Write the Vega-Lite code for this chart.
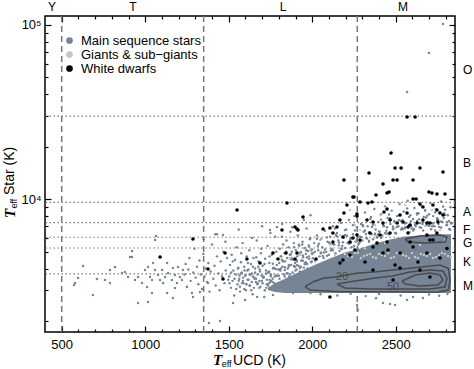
{
"$schema":"https://vega.github.io/schema/vega-lite/v6.json",
"width":410,"height":316,
"autosize":{"type":"none"},
"padding":{"left":45,"top":16,"right":19,"bottom":37},
"config":{"view":{"stroke":"black","strokeWidth":1.5},"font":"Liberation Sans",
 "axis":{"domain":false,"grid":false,"tickColor":"black","tickWidth":1.2,"labelColor":"black","labelFont":"Liberation Sans","labelFontSize":13}},
"datasets":{
"hlines":[{"y":30000},{"y":9600},{"y":7350},{"y":6050},{"y":5250},{"y":3725}],
"vlines":[{"x":500},{"x":1350},{"x":2270}],
"core":[{"x":1735,"hi":3100,"lo":3013},{"x":1777,"hi":3300,"lo":2935},{"x":1837,"hi":3500,"lo":2895},{"x":1897,"hi":3720,"lo":2895},{"x":1957,"hi":3960,"lo":2895},{"x":2035,"hi":4280,"lo":2895},{"x":2106,"hi":4570,"lo":2895},{"x":2196,"hi":4950,"lo":2895},{"x":2286,"hi":5220,"lo":2895},{"x":2376,"hi":5580,"lo":2895},{"x":2466,"hi":5880,"lo":2895},{"x":2556,"hi":6120,"lo":2895},{"x":2645,"hi":6200,"lo":2895},{"x":2735,"hi":6290,"lo":2895},{"x":2831,"hi":6290,"lo":2895}],
"ms":[
{"x":574,"y":3220},{"x":687,"y":2820},{"x":580,"y":3306},{"x":598,"y":3530},{"x":628,"y":4140},{"x":711,"y":3485},{"x":759,"y":3440},{"x":789,"y":3920},{"x":819,"y":4083},{"x":861,"y":3770},{"x":879,"y":3820},{"x":897,"y":3577},{"x":909,"y":4660},{"x":921,"y":4660},{"x":921,"y":5040},{"x":939,"y":3440},{"x":957,"y":3577},{"x":981,"y":3306},{"x":999,"y":3920},{"x":1011,"y":3136},{"x":1017,"y":4083},{"x":1029,"y":3577},{"x":1041,"y":3440},{"x":1047,"y":4305},{"x":1059,"y":3920},{"x":1059,"y":5834},{"x":1065,"y":6150},{"x":1077,"y":3673},{"x":1089,"y":3440},{"x":1101,"y":3920},{"x":1107,"y":3306},{"x":1119,"y":3577},{"x":1131,"y":4305},{"x":1137,"y":3770},{"x":1160,"y":3440},{"x":1166,"y":4030},{"x":1178,"y":3673},{"x":1190,"y":3306},{"x":1196,"y":4083},{"x":1208,"y":3577},{"x":1220,"y":3440},{"x":1226,"y":3920},{"x":957,"y":2540},{"x":1017,"y":2575},{"x":1166,"y":2710},{"x":789,"y":3306},{"x":1041,"y":2895},{"x":1131,"y":2895},{"x":1178,"y":3094},{"x":1250,"y":3136},{"x":1286,"y":2747},{"x":1328,"y":2935},{"x":1376,"y":3306},{"x":1382,"y":1949},{"x":1448,"y":2001},{"x":1526,"y":2540},{"x":1598,"y":2641},{"x":1670,"y":2747},{"x":1765,"y":2820},{"x":1885,"y":2895},
{"x":1235,"y":3700},{"x":1242,"y":4250},{"x":1250,"y":3150},{"x":1258,"y":3950},{"x":1265,"y":4600},{"x":1272,"y":3400},{"x":1280,"y":2900},{"x":1288,"y":3800},{"x":1295,"y":5200},{"x":1302,"y":3550},{"x":1310,"y":4100},{"x":1318,"y":3250},{"x":1325,"y":4450},{"x":1333,"y":3700},{"x":1340,"y":3050},{"x":1348,"y":4850},{"x":1355,"y":3600},{"x":1362,"y":4000},{"x":1370,"y":3350},{"x":1378,"y":4300},{"x":1385,"y":2950},{"x":1392,"y":3850},{"x":1400,"y":5500},{"x":1408,"y":3500},{"x":1415,"y":4150},{"x":1422,"y":3200},{"x":1430,"y":4700},{"x":1438,"y":3750},{"x":1445,"y":3000},{"x":1452,"y":4400},{"x":1460,"y":3600},{"x":1468,"y":5000},{"x":1475,"y":3300},{"x":1482,"y":3900},{"x":1490,"y":4600},{"x":1497,"y":3450},
{"x":1503,"y":3600},{"x":1508,"y":4200},{"x":1513,"y":3100},{"x":1518,"y":4800},{"x":1523,"y":3400},{"x":1528,"y":3900},{"x":1533,"y":2800},{"x":1538,"y":4500},{"x":1543,"y":3700},{"x":1548,"y":5300},{"x":1553,"y":3250},{"x":1558,"y":4050},{"x":1563,"y":3500},{"x":1568,"y":2950},{"x":1573,"y":4350},{"x":1578,"y":3800},{"x":1583,"y":5600},{"x":1588,"y":3300},{"x":1593,"y":4100},{"x":1598,"y":3650},{"x":1603,"y":3000},{"x":1608,"y":4700},{"x":1613,"y":3450},{"x":1618,"y":3950},{"x":1623,"y":5100},{"x":1628,"y":3200},{"x":1633,"y":4250},{"x":1638,"y":3750},{"x":1643,"y":2850},{"x":1648,"y":4600},{"x":1653,"y":3550},{"x":1658,"y":4000},{"x":1663,"y":3350},{"x":1668,"y":5800},{"x":1673,"y":3700},{"x":1678,"y":4400},{"x":1683,"y":3100},{"x":1688,"y":3850},{"x":1693,"y":4900},{"x":1698,"y":3400},{"x":1703,"y":4150},{"x":1708,"y":3600},{"x":1713,"y":2750},{"x":1718,"y":4550},{"x":1723,"y":3900},{"x":1728,"y":3250},{"x":1733,"y":5400},{"x":1738,"y":3800},{"x":1743,"y":4300},{"x":1748,"y":3050},{"x":1753,"y":3700},{"x":1758,"y":4800},{"x":1763,"y":3500},{"x":1768,"y":4050},{"x":1773,"y":3300},{"x":1778,"y":6100},{"x":1783,"y":3650},{"x":1788,"y":4200},{"x":1793,"y":3150},{"x":1798,"y":3950},
{"x":1505,"y":3300},{"x":1515,"y":3800},{"x":1525,"y":4400},{"x":1535,"y":3500},{"x":1545,"y":3050},{"x":1555,"y":4000},{"x":1565,"y":3650},{"x":1575,"y":4900},{"x":1585,"y":3400},{"x":1595,"y":3900},{"x":1605,"y":3250},{"x":1615,"y":4300},{"x":1625,"y":3700},{"x":1635,"y":3000},{"x":1645,"y":4100},{"x":1655,"y":3500},{"x":1665,"y":4650},{"x":1675,"y":3300},{"x":1685,"y":3950},{"x":1695,"y":5200},{"x":1705,"y":3550},{"x":1715,"y":4250},{"x":1725,"y":3100},{"x":1735,"y":3800},{"x":1745,"y":4700},{"x":1755,"y":3400},{"x":1765,"y":4000},{"x":1775,"y":3600},{"x":1785,"y":5000},{"x":1795,"y":3300},
{"x":1560,"y":3400},{"x":1567,"y":3150},{"x":1573,"y":3750},{"x":1580,"y":3300},{"x":1586,"y":3550},{"x":1593,"y":3050},{"x":1599,"y":3650},{"x":1606,"y":3250},{"x":1612,"y":3900},{"x":1619,"y":3450},{"x":1625,"y":3200},{"x":1632,"y":3700},{"x":1638,"y":3350},{"x":1645,"y":3600},{"x":1651,"y":3100},{"x":1658,"y":3800},{"x":1664,"y":3500},{"x":1671,"y":3250},{"x":1677,"y":4100},{"x":1684,"y":3400},{"x":1690,"y":3150},{"x":1697,"y":3650},{"x":1703,"y":3300},{"x":1710,"y":3550},{"x":1716,"y":3000},{"x":1723,"y":3750},{"x":1729,"y":3450},{"x":1736,"y":3200},{"x":1742,"y":3850},{"x":1749,"y":3350},
{"x":1802,"y":4300},{"x":1806,"y":5200},{"x":1810,"y":3900},{"x":1814,"y":4700},{"x":1818,"y":6100},{"x":1822,"y":4100},{"x":1826,"y":5500},{"x":1830,"y":3700},{"x":1834,"y":4900},{"x":1838,"y":4400},{"x":1842,"y":3050},{"x":1846,"y":5800},{"x":1850,"y":4600},{"x":1854,"y":4000},{"x":1858,"y":5300},{"x":1862,"y":3600},{"x":1866,"y":4800},{"x":1870,"y":6500},{"x":1874,"y":4200},{"x":1878,"y":5000},{"x":1882,"y":3800},{"x":1886,"y":4500},{"x":1890,"y":5600},{"x":1894,"y":2950},{"x":1898,"y":4300},{"x":1902,"y":5100},{"x":1906,"y":3950},{"x":1910,"y":4700},{"x":1914,"y":6200},{"x":1918,"y":4150},{"x":1922,"y":5400},{"x":1926,"y":3850},{"x":1930,"y":4950},{"x":1934,"y":4450},{"x":1938,"y":3150},{"x":1942,"y":5700},{"x":1946,"y":4650},{"x":1950,"y":4050},{"x":1954,"y":5250},{"x":1958,"y":3650},{"x":1962,"y":4850},{"x":1966,"y":6800},{"x":1970,"y":4250},{"x":1974,"y":5050},{"x":1978,"y":3750},{"x":1982,"y":4550},{"x":1986,"y":5900},{"x":1990,"y":2900},{"x":1994,"y":4350},{"x":1998,"y":5150},
{"x":1804,"y":3500},{"x":1812,"y":4000},{"x":1820,"y":3300},{"x":1828,"y":4400},{"x":1836,"y":3600},{"x":1844,"y":5000},{"x":1852,"y":3400},{"x":1860,"y":4200},{"x":1868,"y":3700},{"x":1876,"y":4600},{"x":1884,"y":3200},{"x":1892,"y":5300},{"x":1900,"y":3900},{"x":1908,"y":4400},{"x":1916,"y":3500},{"x":1924,"y":4800},{"x":1932,"y":4100},{"x":1940,"y":5500},{"x":1948,"y":3800},{"x":1956,"y":4300},{"x":1964,"y":5100},{"x":1972,"y":4000},{"x":1980,"y":4700},{"x":1988,"y":6000},{"x":1996,"y":4400},
{"x":2004,"y":4900},{"x":2012,"y":5600},{"x":2020,"y":4500},{"x":2028,"y":6200},{"x":2036,"y":5100},{"x":2044,"y":4700},{"x":2052,"y":5900},{"x":2060,"y":5300},{"x":2068,"y":4600},{"x":2076,"y":6600},{"x":2084,"y":5000},{"x":2092,"y":5700},{"x":2100,"y":4800},
{"x":2108,"y":6100},{"x":2116,"y":5200},{"x":2124,"y":7000},{"x":2132,"y":5500},{"x":2140,"y":4900},{"x":2148,"y":6400},{"x":2156,"y":5800},{"x":2164,"y":5050},{"x":2172,"y":7300},{"x":2180,"y":5400},{"x":2188,"y":6000},{"x":2196,"y":5250},
{"x":2204,"y":6700},{"x":2212,"y":5600},{"x":2220,"y":7600},{"x":2228,"y":5900},{"x":2236,"y":5300},{"x":2244,"y":6300},{"x":2252,"y":8000},{"x":2260,"y":5700},{"x":2268,"y":6900},{"x":2276,"y":5500},{"x":2284,"y":6100},{"x":2292,"y":7200},{"x":2300,"y":5800},
{"x":2308,"y":6500},{"x":2316,"y":8400},{"x":2324,"y":6000},{"x":2332,"y":7000},{"x":2340,"y":5700},{"x":2348,"y":7700},{"x":2356,"y":6300},{"x":2364,"y":5900},{"x":2372,"y":8800},{"x":2380,"y":6700},{"x":2388,"y":6100},{"x":2396,"y":7400},
{"x":2404,"y":6500},{"x":2412,"y":8200},{"x":2420,"y":6200},{"x":2428,"y":7000},{"x":2436,"y":9100},{"x":2444,"y":6600},{"x":2452,"y":7800},{"x":2460,"y":6300},{"x":2468,"y":7200},{"x":2476,"y":8600},{"x":2484,"y":6800},{"x":2492,"y":7500},{"x":2500,"y":6400},
{"x":2508,"y":8000},{"x":2516,"y":7000},{"x":2524,"y":9400},{"x":2532,"y":6700},{"x":2540,"y":7600},{"x":2548,"y":8500},{"x":2556,"y":6900},{"x":2564,"y":7300},{"x":2572,"y":9800},{"x":2580,"y":7100},{"x":2588,"y":8100},{"x":2596,"y":6800},
{"x":2604,"y":7700},{"x":2612,"y":8900},{"x":2620,"y":7000},{"x":2628,"y":7500},{"x":2636,"y":8300},{"x":2644,"y":6900},{"x":2652,"y":9200},{"x":2660,"y":7200},{"x":2668,"y":7900},{"x":2676,"y":8600},{"x":2684,"y":7100},{"x":2692,"y":7400},{"x":2700,"y":8200},
{"x":2708,"y":9500},{"x":2716,"y":7300},{"x":2724,"y":8000},{"x":2732,"y":7000},{"x":2740,"y":8800},{"x":2748,"y":7600},{"x":2756,"y":7200},{"x":2764,"y":8400},{"x":2772,"y":9700},{"x":2780,"y":7400},{"x":2788,"y":7800},{"x":2796,"y":8700},{"x":2804,"y":7100},{"x":2812,"y":8100},{"x":2820,"y":7500},{"x":2828,"y":9000},{"x":2836,"y":7300},
{"x":1740,"y":3290},{"x":1752,"y":3610},{"x":1764,"y":4260},{"x":1776,"y":4010},{"x":1788,"y":3630},{"x":1800,"y":3950},{"x":1812,"y":4700},{"x":1824,"y":4410},{"x":1836,"y":3930},{"x":1848,"y":3765},{"x":1860,"y":4110},{"x":1872,"y":4830},{"x":1884,"y":4520},{"x":1896,"y":4090},{"x":1908,"y":4450},{"x":1920,"y":5490},{"x":1932,"y":4970},{"x":1944,"y":4430},{"x":1956,"y":4240},{"x":1968,"y":4630},{"x":1980,"y":5430},{"x":1992,"y":5080},{"x":2004,"y":4590},{"x":2016,"y":4990},{"x":2028,"y":5930},{"x":2040,"y":5550},{"x":2052,"y":4940},{"x":2064,"y":4730},{"x":2076,"y":5150},{"x":2088,"y":6040},{"x":2100,"y":5640},{"x":2112,"y":5080},{"x":2124,"y":5520},{"x":2136,"y":6790},{"x":2148,"y":6125},{"x":2160,"y":5450},{"x":2172,"y":5210},{"x":2184,"y":5670},{"x":2196,"y":6650},{"x":2208,"y":6180},{"x":2220,"y":5550},{"x":2232,"y":6000},{"x":2244,"y":7100},{"x":2256,"y":6625},{"x":2268,"y":5870},{"x":2280,"y":5590},{"x":2292,"y":6065},{"x":2304,"y":7100},{"x":2316,"y":6610},{"x":2328,"y":5950},{"x":2340,"y":6450},{"x":2352,"y":7920},{"x":2364,"y":7130},{"x":2376,"y":6330},{"x":2388,"y":6030},{"x":2400,"y":6540},{"x":2412,"y":7640},{"x":2424,"y":7110},{"x":2436,"y":6380},{"x":2448,"y":6910},{"x":2460,"y":8170},{"x":2472,"y":7610},{"x":2484,"y":6730},{"x":2496,"y":6400},{"x":2508,"y":6930},{"x":2520,"y":8080},{"x":2532,"y":7500},{"x":2544,"y":6720},{"x":2556,"y":7260},{"x":2568,"y":8860},{"x":2580,"y":7920},{"x":2592,"y":6990},{"x":2604,"y":6615},{"x":2616,"y":7130},{"x":2628,"y":8300},{"x":2640,"y":7670},{"x":2652,"y":6850},{"x":2664,"y":7380},{"x":2676,"y":8680},{"x":2688,"y":8050},{"x":2700,"y":7100},{"x":2712,"y":6720},{"x":2724,"y":7250},{"x":2736,"y":8430},{"x":2748,"y":7780},{"x":2760,"y":6940},{"x":2772,"y":7460},{"x":2784,"y":9080},{"x":2796,"y":8110},{"x":2808,"y":7130},{"x":2820,"y":6750},{"x":2832,"y":7260},
{"x":1746,"y":3445},{"x":1764,"y":3345},{"x":1782,"y":3975},{"x":1800,"y":3640},{"x":1818,"y":4490},{"x":1836,"y":4075},{"x":1854,"y":3755},{"x":1872,"y":4530},{"x":1890,"y":4135},{"x":1908,"y":4180},{"x":1926,"y":4030},{"x":1944,"y":4755},{"x":1962,"y":4350},{"x":1980,"y":5350},{"x":1998,"y":4860},{"x":2016,"y":4470},{"x":2034,"y":5390},{"x":2052,"y":4900},{"x":2070,"y":4940},{"x":2088,"y":4740},{"x":2106,"y":5570},{"x":2124,"y":5090},{"x":2142,"y":6240},{"x":2160,"y":5650},{"x":2178,"y":5185},{"x":2196,"y":6235},{"x":2214,"y":5635},{"x":2232,"y":5640},{"x":2250,"y":5385},{"x":2268,"y":6295},{"x":2286,"y":5710},{"x":2304,"y":6990},{"x":2322,"y":6310},{"x":2340,"y":5780},{"x":2358,"y":6930},{"x":2376,"y":6275},{"x":2394,"y":6285},{"x":2412,"y":6000},{"x":2430,"y":7015},{"x":2448,"y":6365},{"x":2466,"y":7770},{"x":2484,"y":6980},{"x":2502,"y":6355},{"x":2520,"y":7580},{"x":2538,"y":6830},{"x":2556,"y":6820},{"x":2574,"y":6455},{"x":2592,"y":7490},{"x":2610,"y":6745},{"x":2628,"y":8175},{"x":2646,"y":7295},{"x":2664,"y":6610},{"x":2682,"y":7850},{"x":2700,"y":7030},{"x":2718,"y":6990},{"x":2736,"y":6615},{"x":2754,"y":7655},{"x":2772,"y":6875},{"x":2790,"y":8300},{"x":2808,"y":7395},{"x":2826,"y":6680},
{"x":2050,"y":2850},{"x":2150,"y":2800},{"x":2230,"y":2870},{"x":2268,"y":2472},{"x":2274,"y":2314},{"x":2320,"y":2780},{"x":2382,"y":2700},{"x":2424,"y":2540},{"x":2466,"y":2505},{"x":2496,"y":2472},{"x":2530,"y":2800},{"x":2604,"y":2747},{"x":2663,"y":2710},{"x":2700,"y":2840},{"x":2760,"y":2790},{"x":2810,"y":2860},{"x":2568,"y":2640},{"x":2400,"y":2860},
{"x":1420,"y":6300},{"x":1560,"y":6700},{"x":1640,"y":6000},{"x":1700,"y":7000},{"x":1750,"y":6400},{"x":1820,"y":7200},{"x":1880,"y":6900},{"x":1950,"y":7600},{"x":1990,"y":8100},{"x":1350,"y":5900},{"x":1480,"y":5700},{"x":1430,"y":6300},{"x":1466,"y":6232},{"x":1747,"y":6659},{"x":1789,"y":6928},
{"x":2699,"y":69070},{"x":2568,"y":41240},{"x":2783,"y":101300}],
"giants":[
{"x":2196,"y":4848},{"x":2238,"y":4660},{"x":2274,"y":4913},{"x":2310,"y":4722},{"x":2346,"y":4848},{"x":2382,"y":4598},{"x":2418,"y":4785},{"x":2454,"y":4913},{"x":2490,"y":4660},{"x":2526,"y":4848},{"x":2562,"y":4722},{"x":2598,"y":4913},{"x":2633,"y":4598},{"x":2669,"y":4785},{"x":2705,"y":4848},{"x":2741,"y":4660},{"x":2777,"y":4913},{"x":2813,"y":4722},
{"x":2214,"y":4722},{"x":2256,"y":4913},{"x":2292,"y":4598},{"x":2328,"y":4785},{"x":2364,"y":4660},{"x":2400,"y":4848},{"x":2436,"y":4722},{"x":2472,"y":4598},{"x":2508,"y":4913},{"x":2544,"y":4785},{"x":2580,"y":4598},{"x":2616,"y":4660},{"x":2651,"y":4848},{"x":2687,"y":4722},{"x":2723,"y":4598},{"x":2759,"y":4785},{"x":2795,"y":4848},{"x":2831,"y":4660},
{"x":2106,"y":5462},{"x":2047,"y":5834},{"x":1987,"y":5112},{"x":2166,"y":6232},{"x":2286,"y":6659},{"x":2376,"y":7113},{"x":2496,"y":6838},{"x":2586,"y":6486},{"x":2675,"y":7020},{"x":2765,"y":6659},{"x":2795,"y":5834},{"x":2645,"y":5462},{"x":2436,"y":5608},{"x":2316,"y":5214},{"x":1927,"y":4785},{"x":1867,"y":4598},{"x":2017,"y":4362},{"x":2226,"y":8674},{"x":2556,"y":9265},{"x":2717,"y":8674},{"x":2406,"y":8120},{"x":2256,"y":7113},{"x":2136,"y":4785}],
"wd":[
{"x":2568,"y":29640},{"x":2616,"y":29640},{"x":2472,"y":18420},{"x":2496,"y":15110},{"x":2532,"y":15110},{"x":2645,"y":15110},{"x":2783,"y":14330},{"x":2190,"y":12890},{"x":2340,"y":14140},{"x":2484,"y":12890},{"x":2508,"y":12890},{"x":2604,"y":12890},{"x":2424,"y":12230},{"x":2382,"y":10570},{"x":2448,"y":10860},{"x":2460,"y":11000},{"x":2250,"y":10300},{"x":2699,"y":11000},{"x":2717,"y":10860},{"x":2747,"y":10715},{"x":2795,"y":10715},{"x":2604,"y":10030},{"x":2622,"y":10030},{"x":2208,"y":9265},{"x":2286,"y":9640},{"x":2334,"y":9513},{"x":2358,"y":9640},{"x":2645,"y":9389},{"x":2663,"y":9025},{"x":2723,"y":9265},{"x":2747,"y":8674},{"x":2765,"y":8337},{"x":2783,"y":8120},{"x":2190,"y":8337},{"x":2268,"y":8013},{"x":2448,"y":8789},{"x":2430,"y":8448},{"x":2526,"y":8120},{"x":2568,"y":8337},{"x":1945,"y":7907},{"x":1909,"y":6747},{"x":2065,"y":6747},{"x":2106,"y":6838},{"x":2166,"y":7600},{"x":2328,"y":7600},{"x":2364,"y":7400},{"x":2424,"y":7302},{"x":2466,"y":7600},{"x":2508,"y":7302},{"x":2544,"y":7400},{"x":2586,"y":7113},{"x":2628,"y":7302},{"x":2663,"y":7600},{"x":2705,"y":7302},{"x":2753,"y":7400},{"x":2124,"y":6400},{"x":2184,"y":6069},{"x":2268,"y":6232},{"x":2346,"y":6400},{"x":2406,"y":6232},{"x":2466,"y":6400},{"x":2574,"y":6400},{"x":2687,"y":6232},{"x":2747,"y":6400},{"x":2124,"y":5682},{"x":2226,"y":5682},{"x":2286,"y":5834},{"x":2388,"y":5608},{"x":2448,"y":5682},{"x":2586,"y":5682},{"x":2705,"y":5834},{"x":1849,"y":9513},{"x":1550,"y":8674},{"x":1286,"y":5911},{"x":1819,"y":6659},{"x":1897,"y":6928},{"x":1915,"y":6659},{"x":1478,"y":4913},{"x":1609,"y":4538},{"x":1687,"y":4305},{"x":1765,"y":4913},{"x":1795,"y":4538},{"x":1843,"y":4913},{"x":1909,"y":4913},{"x":1897,"y":4538},{"x":2023,"y":4538},{"x":1376,"y":3977},{"x":1466,"y":3485},{"x":1089,"y":4660},{"x":2106,"y":2747},{"x":2166,"y":4305},{"x":2184,"y":4479},{"x":2364,"y":5318},{"x":2424,"y":4913},{"x":2454,"y":5112},{"x":2526,"y":4913},{"x":2604,"y":5318},{"x":2687,"y":4913},{"x":2723,"y":5834},{"x":2484,"y":3439},{"x":2705,"y":3577},{"x":2244,"y":5990},{"x":2574,"y":6928},{"x":2687,"y":7302},{"x":2148,"y":6928},{"x":2268,"y":8226},{"x":2244,"y":10300},{"x":2226,"y":4785},{"x":2316,"y":4362},{"x":2496,"y":4193},{"x":2633,"y":4362},{"x":2765,"y":4598},{"x":2807,"y":5215},{"x":2645,"y":3924},{"x":2526,"y":4030},{"x":2364,"y":3924},{"x":2256,"y":5112}],
"contours":[
{"c":1,"o":1,"x":1957,"y":3148},{"c":1,"o":2,"x":2007,"y":3363},{"c":1,"o":3,"x":2066,"y":3518},{"c":1,"o":4,"x":2147,"y":3593},{"c":1,"o":5,"x":2266,"y":3758},{"c":1,"o":6,"x":2386,"y":3838},{"c":1,"o":7,"x":2526,"y":3961},{"c":1,"o":8,"x":2665,"y":4100},{"c":1,"o":9,"x":2765,"y":4193},{"c":1,"o":10,"x":2815,"y":4015},{"c":1,"o":11,"x":2825,"y":3439},{"c":1,"o":12,"x":2815,"y":3013},{"c":1,"o":13,"x":2745,"y":2923},{"c":1,"o":14,"x":2466,"y":2946},{"c":1,"o":15,"x":2166,"y":2946},{"c":1,"o":16,"x":1987,"y":3013},{"c":1,"o":17,"x":1957,"y":3148},
{"c":2,"o":1,"x":2148,"y":3262},{"c":2,"o":2,"x":2256,"y":3394},{"c":2,"o":3,"x":2376,"y":3530},{"c":2,"o":4,"x":2478,"y":3626},{"c":2,"o":5,"x":2586,"y":3821},{"c":2,"o":6,"x":2705,"y":3924},{"c":2,"o":7,"x":2783,"y":3873},{"c":2,"o":8,"x":2807,"y":3530},{"c":2,"o":9,"x":2795,"y":3136},{"c":2,"o":10,"x":2705,"y":3053},{"c":2,"o":11,"x":2526,"y":3053},{"c":2,"o":12,"x":2346,"y":3053},{"c":2,"o":13,"x":2196,"y":3094},{"c":2,"o":14,"x":2148,"y":3262},
{"c":3,"o":1,"x":2538,"y":3394},{"c":3,"o":2,"x":2616,"y":3673},{"c":3,"o":3,"x":2705,"y":3772},{"c":3,"o":4,"x":2765,"y":3673},{"c":3,"o":5,"x":2783,"y":3439},{"c":3,"o":6,"x":2753,"y":3219},{"c":3,"o":7,"x":2645,"y":3177},{"c":3,"o":8,"x":2556,"y":3262},{"c":3,"o":9,"x":2538,"y":3394},
{"c":4,"o":1,"x":2556,"y":5911},{"c":4,"o":2,"x":2645,"y":6150},{"c":4,"o":3,"x":2765,"y":6232},{"c":4,"o":4,"x":2807,"y":6069},{"c":4,"o":5,"x":2795,"y":5682},{"c":4,"o":6,"x":2675,"y":5608},{"c":4,"o":7,"x":2574,"y":5682},{"c":4,"o":8,"x":2556,"y":5911}],
"clabels":[{"x":2178,"y":3577,"t":"20"},{"x":2484,"y":3136,"t":"50"}],
"spec":[{"y":55150,"t":"O"},{"y":16140,"t":"B"},{"y":8447,"t":"A"},{"y":6660,"t":"F"},{"y":5609,"t":"G"},{"y":4362,"t":"K"},{"y":3177,"t":"M"}],
"ucd":[{"x":442,"t":"Y"},{"x":927,"t":"T"},{"x":1825,"t":"L"},{"x":2544,"t":"M"}]
},
"layer":[
{"data":{"name":"hlines"},"mark":{"type":"rule","color":"#777777","strokeDash":[1.5,2.5],"strokeWidth":1.2},
 "encoding":{"y":{"field":"y","type":"quantitative","scale":{"type":"log","domain":[1730,112600],"nice":false},"axis":null}}},
{"data":{"name":"vlines"},"mark":{"type":"rule","color":"#777777","strokeDash":[6,4],"strokeWidth":1.5},
 "encoding":{"x":{"field":"x","type":"quantitative","scale":{"domain":[400,2855],"nice":false,"zero":false},"axis":null}}},
{"data":{"name":"core"},"mark":{"type":"area","color":"#768596","opacity":1},
 "encoding":{"x":{"field":"x","type":"quantitative","scale":{"domain":[400,2855],"nice":false,"zero":false},"axis":null},
  "y":{"field":"hi","type":"quantitative","scale":{"type":"log","domain":[1730,112600],"nice":false},"axis":null},
  "y2":{"field":"lo"}}},
{"data":{"name":"ms"},"mark":{"type":"circle","size":6,"opacity":1},
 "encoding":{"x":{"field":"x","type":"quantitative","scale":{"domain":[400,2855],"nice":false,"zero":false},
   "axis":{"orient":"bottom","title":null,"values":[500,600,700,800,900,1000,1100,1200,1300,1400,1500,1600,1700,1800,1900,2000,2100,2200,2300,2400,2500,2600,2700,2800],"format":"d","labelExpr":"datum.value % 500 === 0 ? datum.label : ''","tickSize":{"expr":"datum.value % 500 === 0 ? -6 : -3"},"labelPadding":12,"labelOverlap":false,"labelFlush":false}},
  "y":{"field":"y","type":"quantitative","scale":{"type":"log","domain":[1730,112600],"nice":false},
   "axis":{"orient":"left","title":null,"values":[2000,3000,4000,5000,6000,7000,8000,9000,10000,20000,30000,40000,50000,60000,70000,80000,90000,100000],"labelExpr":"datum.value === 10000 ? '10⁴' : datum.value === 100000 ? '10⁵' : ''","tickSize":{"expr":"(datum.value === 10000 || datum.value === 100000) ? -6 : -3"},"labelPadding":10,"labelOverlap":false}},
  "color":{"datum":"Main sequence stars","type":"nominal","scale":{"domain":["Main sequence stars","Giants & sub−giants","White dwarfs"],"range":["#768596","#c6c6c6","#000000"]},
   "legend":{"orient":"none","legendX":18,"legendY":18,"title":null,"symbolType":"circle","symbolSize":45,"labelFontSize":13,"labelFont":"Liberation Sans","labelColor":"black","rowPadding":-1.7,"labelOffset":5}}}},
{"data":{"name":"giants"},"mark":{"type":"circle","size":6,"opacity":1},
 "encoding":{"x":{"field":"x","type":"quantitative","scale":{"domain":[400,2855],"nice":false,"zero":false},
   "axis":{"orient":"top","title":null,"labels":false,"values":[500,600,700,800,900,1000,1100,1200,1300,1400,1500,1600,1700,1800,1900,2000,2100,2200,2300,2400,2500,2600,2700,2800],"tickSize":{"expr":"datum.value % 500 === 0 ? -6 : -3"}}},
  "y":{"field":"y","type":"quantitative","scale":{"type":"log","domain":[1730,112600],"nice":false},
   "axis":{"orient":"right","title":null,"labels":false,"values":[2000,3000,4000,5000,6000,7000,8000,9000,10000,20000,30000,40000,50000,60000,70000,80000,90000,100000],"tickSize":{"expr":"(datum.value === 10000 || datum.value === 100000) ? -6 : -3"}}},
  "color":{"datum":"Giants & sub−giants","type":"nominal","scale":{"domain":["Main sequence stars","Giants & sub−giants","White dwarfs"],"range":["#768596","#c6c6c6","#000000"]},
   "legend":{"orient":"none","legendX":18,"legendY":18,"title":null,"symbolType":"circle","symbolSize":45,"labelFontSize":13,"labelFont":"Liberation Sans","labelColor":"black","rowPadding":-1.7,"labelOffset":5}}}},
{"data":{"name":"contours"},"mark":{"type":"line","color":"#4a4a4a","strokeWidth":1.5},
 "encoding":{"x":{"field":"x","type":"quantitative","scale":{"domain":[400,2855],"nice":false,"zero":false},"axis":null},
  "y":{"field":"y","type":"quantitative","scale":{"type":"log","domain":[1730,112600],"nice":false},"axis":null},
  "detail":{"field":"c","type":"nominal"},"order":{"field":"o","type":"quantitative"}}},
{"data":{"name":"wd"},"mark":{"type":"circle","size":13,"opacity":1},
 "encoding":{"x":{"field":"x","type":"quantitative","scale":{"domain":[400,2855],"nice":false,"zero":false},"axis":null},
  "y":{"field":"y","type":"quantitative","scale":{"type":"log","domain":[1730,112600],"nice":false},"axis":null},
  "color":{"datum":"White dwarfs","type":"nominal","scale":{"domain":["Main sequence stars","Giants & sub−giants","White dwarfs"],"range":["#768596","#c6c6c6","#000000"]},
   "legend":{"orient":"none","legendX":18,"legendY":18,"title":null,"symbolType":"circle","symbolSize":45,"labelFontSize":13,"labelFont":"Liberation Sans","labelColor":"black","rowPadding":-1.7,"labelOffset":5}}}},
{"data":{"name":"clabels"},"mark":{"type":"text","color":"#4a4a4a","fontSize":11,"font":"Liberation Sans","baseline":"middle","align":"center"},
 "encoding":{"x":{"field":"x","type":"quantitative","scale":{"domain":[400,2855],"nice":false,"zero":false},"axis":null},
  "y":{"field":"y","type":"quantitative","scale":{"type":"log","domain":[1730,112600],"nice":false},"axis":null},
  "text":{"field":"t"}}},
{"data":{"name":"spec"},"mark":{"type":"text","color":"black","fontSize":12,"font":"Liberation Sans","baseline":"middle","align":"left","dx":8},
 "encoding":{"x":{"datum":2855,"type":"quantitative","scale":{"domain":[400,2855],"nice":false,"zero":false},"axis":null},
  "y":{"field":"y","type":"quantitative","scale":{"type":"log","domain":[1730,112600],"nice":false},"axis":null},
  "text":{"field":"t"}}},
{"data":{"name":"ucd"},"mark":{"type":"text","color":"black","fontSize":12,"font":"Liberation Sans","baseline":"middle","align":"center","dy":-9},
 "encoding":{"x":{"field":"x","type":"quantitative","scale":{"domain":[400,2855],"nice":false,"zero":false},"axis":null},
  "y":{"datum":112600,"type":"quantitative","scale":{"type":"log","domain":[1730,112600],"nice":false},"axis":null},
  "text":{"field":"t"}}},
{"data":{"values":[{"t":"T"}]},"mark":{"type":"text","color":"black","fontSize":15,"font":"Liberation Serif","fontStyle":"italic","fontWeight":"bold","baseline":"middle","align":"left","dy":28},
 "encoding":{"x":{"datum":1406,"type":"quantitative","scale":{"domain":[400,2855],"nice":false,"zero":false},"axis":null},
  "y":{"datum":1730,"type":"quantitative","scale":{"type":"log","domain":[1730,112600],"nice":false},"axis":null},
  "text":{"field":"t"}}},
{"data":{"values":[{"t":"eff"}]},"mark":{"type":"text","color":"black","fontSize":9,"font":"Liberation Sans","baseline":"middle","align":"left","dy":32},
 "encoding":{"x":{"datum":1458,"type":"quantitative","scale":{"domain":[400,2855],"nice":false,"zero":false},"axis":null},
  "y":{"datum":1730,"type":"quantitative","scale":{"type":"log","domain":[1730,112600],"nice":false},"axis":null},
  "text":{"field":"t"}}},
{"data":{"values":[{"t":"UCD (K)"}]},"mark":{"type":"text","color":"black","fontSize":14,"font":"Liberation Sans","baseline":"middle","align":"left","dy":29},
 "encoding":{"x":{"datum":1526,"type":"quantitative","scale":{"domain":[400,2855],"nice":false,"zero":false},"axis":null},
  "y":{"datum":1730,"type":"quantitative","scale":{"type":"log","domain":[1730,112600],"nice":false},"axis":null},
  "text":{"field":"t"}}},
{"data":{"values":[{"t":"T"}]},"mark":{"type":"text","color":"black","fontSize":15,"font":"Liberation Serif","fontStyle":"italic","fontWeight":"bold","baseline":"middle","align":"left","angle":270,"dy":-35},
 "encoding":{"x":{"datum":400,"type":"quantitative","scale":{"domain":[400,2855],"nice":false,"zero":false},"axis":null},
  "y":{"datum":7804,"type":"quantitative","scale":{"type":"log","domain":[1730,112600],"nice":false},"axis":null},
  "text":{"field":"t"}}},
{"data":{"values":[{"t":"eff"}]},"mark":{"type":"text","color":"black","fontSize":9,"font":"Liberation Sans","baseline":"middle","align":"left","angle":270,"dy":-31},
 "encoding":{"x":{"datum":400,"type":"quantitative","scale":{"domain":[400,2855],"nice":false,"zero":false},"axis":null},
  "y":{"datum":8847,"type":"quantitative","scale":{"type":"log","domain":[1730,112600],"nice":false},"axis":null},
  "text":{"field":"t"}}},
{"data":{"values":[{"t":"Star (K)"}]},"mark":{"type":"text","color":"black","fontSize":14,"font":"Liberation Sans","baseline":"middle","align":"left","angle":270,"dy":-35},
 "encoding":{"x":{"datum":400,"type":"quantitative","scale":{"domain":[400,2855],"nice":false,"zero":false},"axis":null},
  "y":{"datum":10570,"type":"quantitative","scale":{"type":"log","domain":[1730,112600],"nice":false},"axis":null},
  "text":{"field":"t"}}}
],
"resolve":{"axis":{"x":"independent","y":"independent"}}
}
